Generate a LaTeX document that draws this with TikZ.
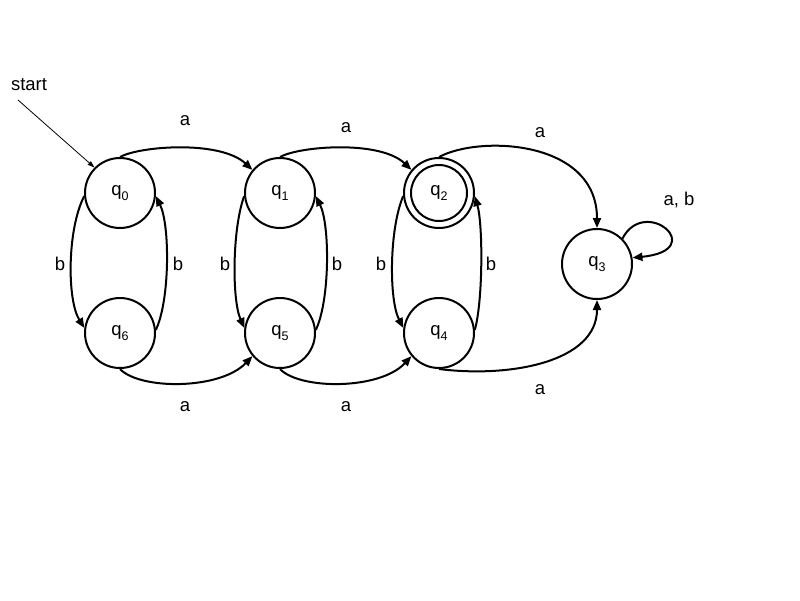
\documentclass[tikz,border=0pt]{standalone}
\usepackage{fontspec}
\setmainfont{Liberation Sans}
\usetikzlibrary{arrows.meta}
\newcommand{\qsub}[1]{q\raisebox{-5pt}{\fontsize{12.5}{12.5}\selectfont #1}}
\begin{document}
\begin{tikzpicture}[x=1pt,y=-1pt,
  font=\fontsize{18.5}{20}\selectfont,
  state/.style={circle,draw,line width=2pt,minimum size=70pt,inner sep=0pt},
  edge/.style={line width=2pt,-{Triangle[length=10pt,width=8pt]}},
  lbl/.style={inner sep=0pt}]
\useasboundingbox (0,0) rectangle (800,600);
\node[state] (q0) at (120,193) {\qsub{0}};
\node[state] (q6) at (120,333) {\qsub{6}};
\node[state] (q1) at (280,193) {\qsub{1}};
\node[state] (q5) at (280,333) {\qsub{5}};
\node[state] (q2) at (439,193) {\qsub{2}};
\node[state] (q4) at (439,333) {\qsub{4}};
\node[state] (q3) at (597,264) {\qsub{3}};
\draw[line width=2pt] (q2.center) circle[radius=28];
% start
\coordinate (s) at (18,100);
\node[lbl] (startlbl) at (29,85) {start};
\draw[line width=0.8pt,-{Triangle[length=7pt,width=4.5pt]}] (s) -- (q0.135);
% a transitions top
\draw[edge] (q0.90) .. controls (140,146) and (220,140) .. (q1.140);
\draw[edge] (q1.90) .. controls (300,146) and (380,140) .. (q2.140);
\draw[edge] (q2.90) .. controls (480,135) and (597,140) .. (q3.90);
% a transitions bottom
\draw[edge] (q6.-90) .. controls (140,390) and (220,390) .. (q5.-140);
\draw[edge] (q5.-90) .. controls (300,390) and (380,390) .. (q4.-140);
\draw[edge] (q4.-90) .. controls (510,378) and (597,362) .. (q3.-90);
% b transitions
\draw[edge] (q0.185) .. controls (67,230) and (67,300) .. (q6.172);
\draw[edge] (q6.5) .. controls (170,300) and (170,225) .. (q0.-5);
\draw[edge] (q1.185) .. controls (232,230) and (232,300) .. (q5.172);
\draw[edge] (q5.5) .. controls (330,300) and (330,225) .. (q1.-5);
\draw[edge] (q2.185) .. controls (389,230) and (389,300) .. (q4.172);
\draw[edge] (q4.5) .. controls (483,300) and (483,225) .. (q2.-5);
% loop
\draw[edge] (q3.45) .. controls (645,195) and (710,250) .. (q3.10);
% labels
\node[lbl] (la1) at (185,121) {a};
\node[lbl] (la2) at (346,128) {a};
\node[lbl] (la3) at (540,133) {a};
\node[lbl] (la4) at (185,407) {a};
\node[lbl] (la5) at (346,407) {a};
\node[lbl] (la6) at (540,390) {a};
\node[lbl] (lb1) at (60,264) {b};
\node[lbl] (lb2) at (178,264) {b};
\node[lbl] (lb3) at (225,264) {b};
\node[lbl] (lb4) at (337,264) {b};
\node[lbl] (lb5) at (381,264) {b};
\node[lbl] (lb6) at (491,264) {b};
\node[lbl] (lab) at (679,200) {a, b};
\end{tikzpicture}
\end{document}
